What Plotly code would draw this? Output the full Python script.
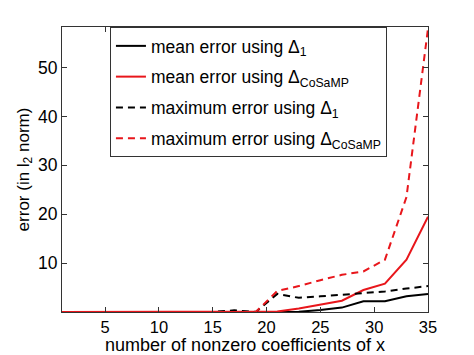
import plotly.graph_objects as go

x = [1, 3, 5, 7, 9, 11, 13, 15, 17, 19, 21, 23, 25, 27, 29, 31, 33, 35]
mean_d1 = [0, 0, 0, 0, 0, 0, 0, 0, 0, 0, 0, 0.05, 0.4, 0.9, 2.2, 2.2, 3.2, 3.7]
mean_cosamp = [0, 0, 0, 0, 0, 0, 0, 0, 0, 0, 0.1, 0.7, 1.5, 2.3, 4.5, 5.8, 10.7, 19.5]
max_d1 = [0, 0, 0, 0, 0, 0, 0, 0, 0.35, 0, 3.7, 2.9, 3.2, 3.5, 3.9, 4.2, 4.8, 5.3]
max_cosamp = [0, 0, 0, 0, 0, 0, 0, 0, 0, 0, 4.3, 5.3, 6.5, 7.6, 8.3, 10.7, 23.5, 58]

names = ["mean error using Δ<sub>1</sub>",
         "mean error using Δ<sub>CoSaMP</sub>",
         "maximum error using Δ<sub>1</sub>",
         "maximum error using Δ<sub>CoSaMP</sub>"]
series = [mean_d1, mean_cosamp, max_d1, max_cosamp]
colors = ["black", "#e8161b", "black", "#e8161b"]
dashes = ["solid", "solid", "7px,5px", "7px,5px"]

fig = go.Figure()
for i, (nm, ys, c, d) in enumerate(zip(names, series, colors, dashes)):
    fig.add_trace(go.Scatter(x=x, y=ys, mode="lines", name=nm,
                             legendgroup=f"g{i}",
                             line=dict(color=c, width=2, dash=d)))

font = "Liberation Sans, Arial, sans-serif"
# page has an 8px body margin; figure sized/margined to land the plot area on the reference's
fig.update_layout(
    width=466, height=347,
    margin=dict(l=54, r=46, t=19, b=43),
    paper_bgcolor="white", plot_bgcolor="white",
    font=dict(family=font, size=17, color="black"),
    showlegend=True,
    legend=dict(x=0.131, y=1.0, xanchor="left", yanchor="top",
                bgcolor="white", bordercolor="#333333", borderwidth=1,
                font=dict(size=17.5), tracegroupgap=5, itemwidth=30,
                traceorder="grouped"),
    xaxis=dict(range=[1, 35], tickvals=[5, 10, 15, 20, 25, 30, 35],
               ticks="inside", ticklen=5, tickcolor="#333333",
               showline=True, linecolor="#333333", linewidth=1, mirror="ticks",
               showgrid=False, zeroline=False, automargin=False,
               tickfont=dict(size=16.5),
               title=dict(text="number of nonzero coefficients of x", font=dict(size=18), standoff=8)),
    yaxis=dict(range=[0, 58.3], tickvals=[10, 20, 30, 40, 50],
               ticks="inside", ticklen=5, tickcolor="#333333",
               showline=True, linecolor="#333333", linewidth=1, mirror="ticks",
               showgrid=False, zeroline=False, automargin=False,
               tickfont=dict(size=17.5),
               title=dict(text="error (in l<sub>2</sub> norm)", font=dict(size=17), standoff=4)),
)

fig.write_html("out.html")
